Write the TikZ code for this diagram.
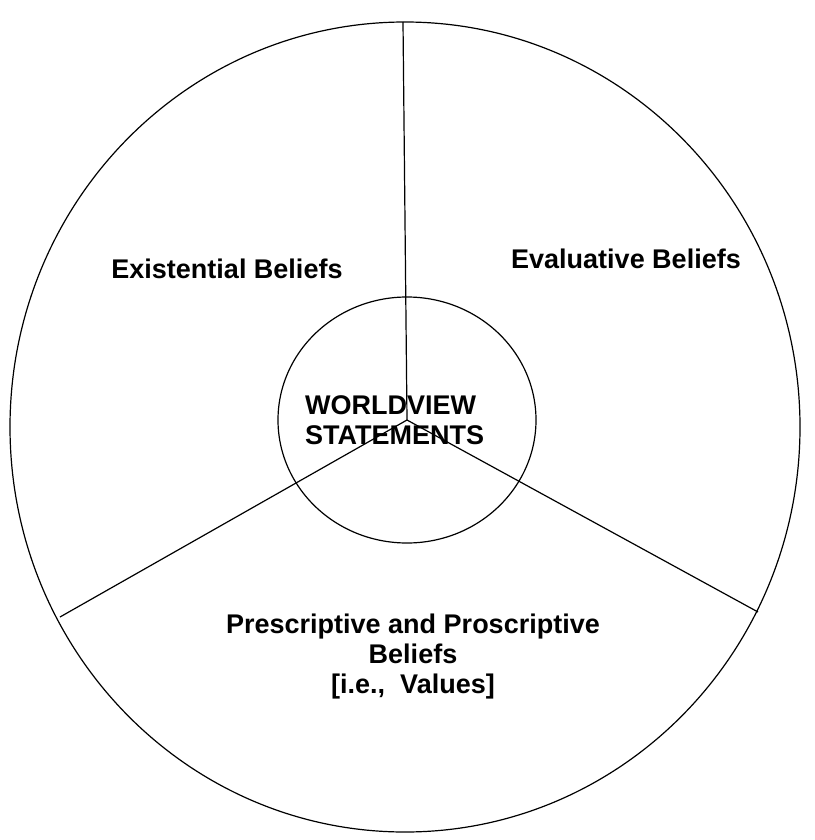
\documentclass[tikz,border=0pt]{standalone}
\usepackage{fontspec}
\setmainfont{Liberation Sans}
\begin{document}
\begin{tikzpicture}[x=1pt,y=-1pt,
  lbl/.style={font=\fontsize{27}{30}\selectfont\bfseries,align=center,inner sep=0pt},
  ln/.style={draw=black,line width=1.2pt}]
\useasboundingbox (0,0) rectangle (814,840);
\draw[ln] (405,427) ellipse [x radius=395, y radius=405];
\draw[ln] (407,420) ellipse [x radius=129, y radius=123];
\coordinate (c) at (407,420);
\coordinate (t) at (403,22);
\coordinate (l) at (60,617);
\coordinate (r) at (758,612);
\draw[ln] (c) -- (t);
\draw[ln] (c) -- (l);
\draw[ln] (c) -- (r);
\node[lbl] (ex) at (227,269) {Existential Beliefs};
\node[lbl] (ev) at (626,259) {Evaluative Beliefs};
\node[lbl,align=left,anchor=west] (wv) at (305,420) {WORLDVIEW\\STATEMENTS};
\node[lbl] (pp) at (413,657) {Prescriptive and Proscriptive\\Beliefs\\{}[i.e.,\ \ Values]};
\end{tikzpicture}
\end{document}
